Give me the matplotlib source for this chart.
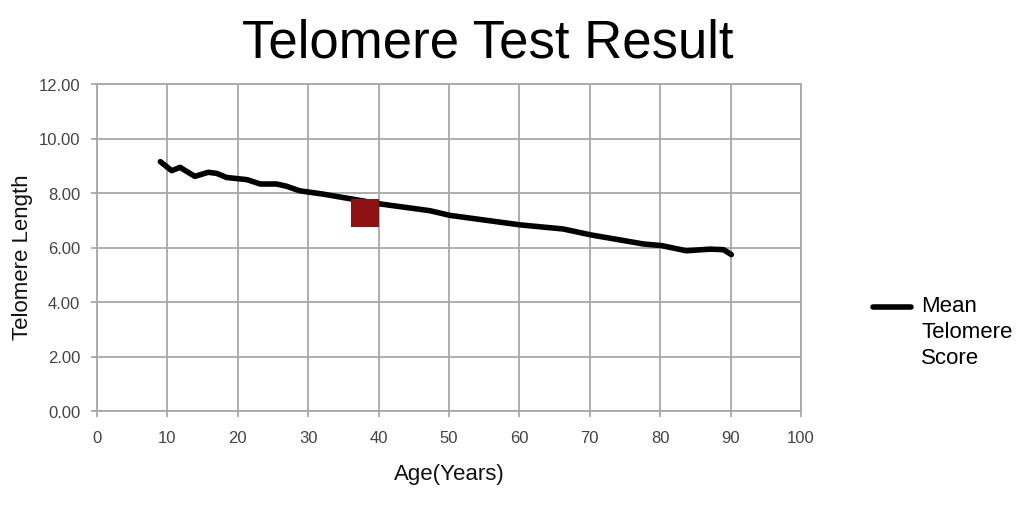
import matplotlib
matplotlib.use("Agg")
import matplotlib.pyplot as plt
from matplotlib.lines import Line2D

ages = [9, 10.6, 11.8, 13.9, 15.8, 17, 18.4, 21.3, 23.2, 25.5, 26.9, 28.8, 32.1,
        35.5, 40.2, 47.3, 50.1, 60.1, 66.2, 70.2, 77.6, 80.2, 83.7, 87.1, 89, 90.1]
mean_score = [9.15, 8.82, 8.94, 8.61, 8.76, 8.72, 8.57, 8.49, 8.33, 8.33, 8.25, 8.08, 7.96,
              7.81, 7.6, 7.35, 7.18, 6.83, 6.68, 6.46, 6.13, 6.07, 5.88, 5.94, 5.92, 5.74]
result_age = [38.1]
result_value = [7.25]
x_ticks = list(range(0, 101, 10))
y_ticks = [0, 2, 4, 6, 8, 10, 12]
legend_label = 'Mean\nTelomere\nScore'

plt.rcParams['font.family'] = ['Liberation Sans', 'DejaVu Sans']

fig = plt.figure(figsize=(10.24, 5.06), dpi=100)
ax = fig.add_axes([97/1024, 1 - 412/506, (801 - 97)/1024, (412 - 85)/506])

grid_c = '#a8a8a8'
ax.plot(ages, mean_score, color='black', lw=4, solid_capstyle='round',
        solid_joinstyle='round', zorder=3)
ax.scatter(result_age, result_value, marker='s', s=28**2 * 0.5184, color='#8e1214',
           zorder=4, linewidths=0)

ax.set_xlim(0, 100)
ax.set_ylim(0, 12)
ax.set_xticks(x_ticks)
ax.set_yticks(y_ticks)
ax.set_yticklabels([f"{v:.2f}" for v in y_ticks])
ax.grid(True, color=grid_c, lw=1.3)
ax.set_axisbelow(True)
for s in ax.spines.values():
    s.set_color(grid_c)
    s.set_linewidth(1.3)
ax.tick_params(axis='both', colors=grid_c, length=4, width=1.3, labelcolor='#444444',
               labelsize=12)
ax.tick_params(axis='x', pad=10)
ax.tick_params(axis='y', pad=8)

ax.set_xlabel('Age(Years)', fontsize=16, color='#111111', labelpad=13)
ax.set_ylabel('Telomere Length', fontsize=16, color='#111111')
ax.yaxis.set_label_coords(-0.0905, 0.474)

fig.text(488/1024, 1 - 43/506, 'Telomere Test Result', fontsize=38, ha='center',
         va='center', color='black')

# legend drawn Excel-style: handle beside the first line of the label
fig.add_artist(Line2D([873/1024, 911/1024], [1 - 308/506, 1 - 308/506], color='black',
                      lw=4, solid_capstyle='round', transform=fig.transFigure))
fig.text(921/1024, 1 - 296/506, legend_label, fontsize=16, ha='left', va='top',
         linespacing=1.32, color='black')

fig.savefig('out.png', dpi=100, facecolor='white')
